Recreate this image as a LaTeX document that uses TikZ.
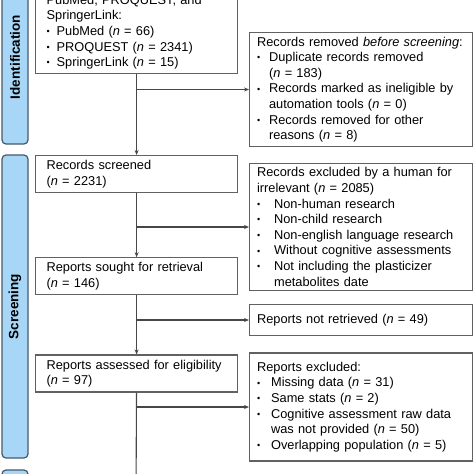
\documentclass[tikz,border=0pt]{standalone}
\usepackage{fontspec}
\setmainfont{Liberation Sans}
\usetikzlibrary{arrows.meta, positioning}

\definecolor{phasefill}{HTML}{A8D6F7}
\definecolor{phaseline}{HTML}{45596A}

\newcommand{\pbul}[1][12pt]{\makebox[#1][l]{\raisebox{0.8pt}{\small\textbullet}}}
\newcommand{\pind}[1][12pt]{\hspace*{#1}}

\begin{document}
\begin{tikzpicture}[
    x=1pt, y=-1pt,
    node distance=12pt,
    every node/.style={font=\fontsize{12.8}{15.6}\selectfont},
    mainbox/.style={rectangle, draw=black!62, line width=1.2pt, text width=180pt, inner xsep=11pt, inner ysep=4pt, align=left, minimum height=37pt},
    sidebox/.style={rectangle, draw=black!62, line width=1.2pt, text width=208pt, inner xsep=7.5pt, inner ysep=4pt, align=left},
    phase/.style={rectangle, rounded corners=4pt, draw=phaseline, line width=1.2pt, fill=phasefill, rotate=90, minimum height=26pt, inner sep=0pt, font=\fontsize{13.5}{16}\selectfont\bfseries},
    arrow/.style={-{Stealth[length=5pt, width=4pt]}, line width=1.1pt, draw=black!72},
    line/.style={line width=1.1pt, draw=black!72}
]
\useasboundingbox (0,0) rectangle (474,474);
\clip (0,0) rectangle (474,474);

% ================= PHASE BARS =================
\node[phase, minimum width=174pt] (idbar) at (15,57) {Identification};
\node[phase, minimum width=303pt] (scbar) at (15,306.5) {Screening};
\node[phase, minimum width=140pt] (inbar) at (15,540) {};

% ================= MAIN COLUMN =================
\node[mainbox, anchor=south west] (ident) at (35,74) {PubMed, PROQUEST, and\\SpringerLink:\\
    \pbul[10pt]PubMed (\textit{n} = 66)\\
    \pbul[10pt]PROQUEST (\textit{n} = 2341)\\
    \pbul[10pt]SpringerLink (\textit{n} = 15)};
\node[mainbox, below=81pt of ident] (screened) {Records screened\\(\textit{n} = 2231)};
\node[mainbox, below=64pt of screened] (sought) {Reports sought for retrieval\\(\textit{n} = 146)};
\node[mainbox, below=59pt of sought] (assessed) {Reports assessed for eligibility\\(\textit{n} = 97)};
\coordinate (next) at (136,500);

% ================= EXCLUSIONS =================
\node[sidebox, minimum height=111pt, anchor=west] (removed) at (249,89.5) {Records removed \textit{before screening}:\\
    \pbul Duplicate records removed\\
    \pind(\textit{n} = 183)\\
    \pbul Records marked as ineligible by\\
    \pind automation tools (\textit{n} = 0)\\
    \pbul Records removed for other\\
    \pind reasons (\textit{n} = 8)};
\node[sidebox, minimum height=126pt, anchor=west] (human) at (249,227) {Records excluded by a human for\\irrelevant (\textit{n} = 2085)\\
    \pbul[17pt]Non-human research\\
    \pbul[17pt]Non-child research\\
    \pbul[17pt]Non-english language research\\
    \pbul[17pt]Without cognitive assessments\\
    \pbul[17pt]Not including the plasticizer\\
    \pind[17pt]metabolites date};
\node[sidebox, minimum height=31pt, anchor=west] (notretr) at (249,320) {Reports not retrieved (\textit{n} = 49)};
\node[sidebox, minimum height=108pt, anchor=west] (excluded) at (249,407) {Reports excluded:\\
    \pbul[14pt]Missing data (\textit{n} = 31)\\
    \pbul[14pt]Same stats (\textit{n} = 2)\\
    \pbul[14pt]Cognitive assessment raw data\\
    \pind[14pt]was not provided (\textit{n} = 50)\\
    \pbul[14pt]Overlapping population (\textit{n} = 5)};

% ================= FLOW =================
\draw[arrow] (ident) -- (screened);
\draw[arrow] (ident.south |- removed.west) -- (removed.west);
\draw[arrow] (screened) -- (sought);
\draw[arrow] (screened.south |- human.west) -- (human.west);
\draw[arrow] (sought) -- (assessed);
\draw[arrow] (sought.south |- notretr.west) -- (notretr.west);
\draw[line] (assessed) -- (next);
\draw[arrow] (assessed.south |- excluded.west) -- (excluded.west);

\end{tikzpicture}
\end{document}
